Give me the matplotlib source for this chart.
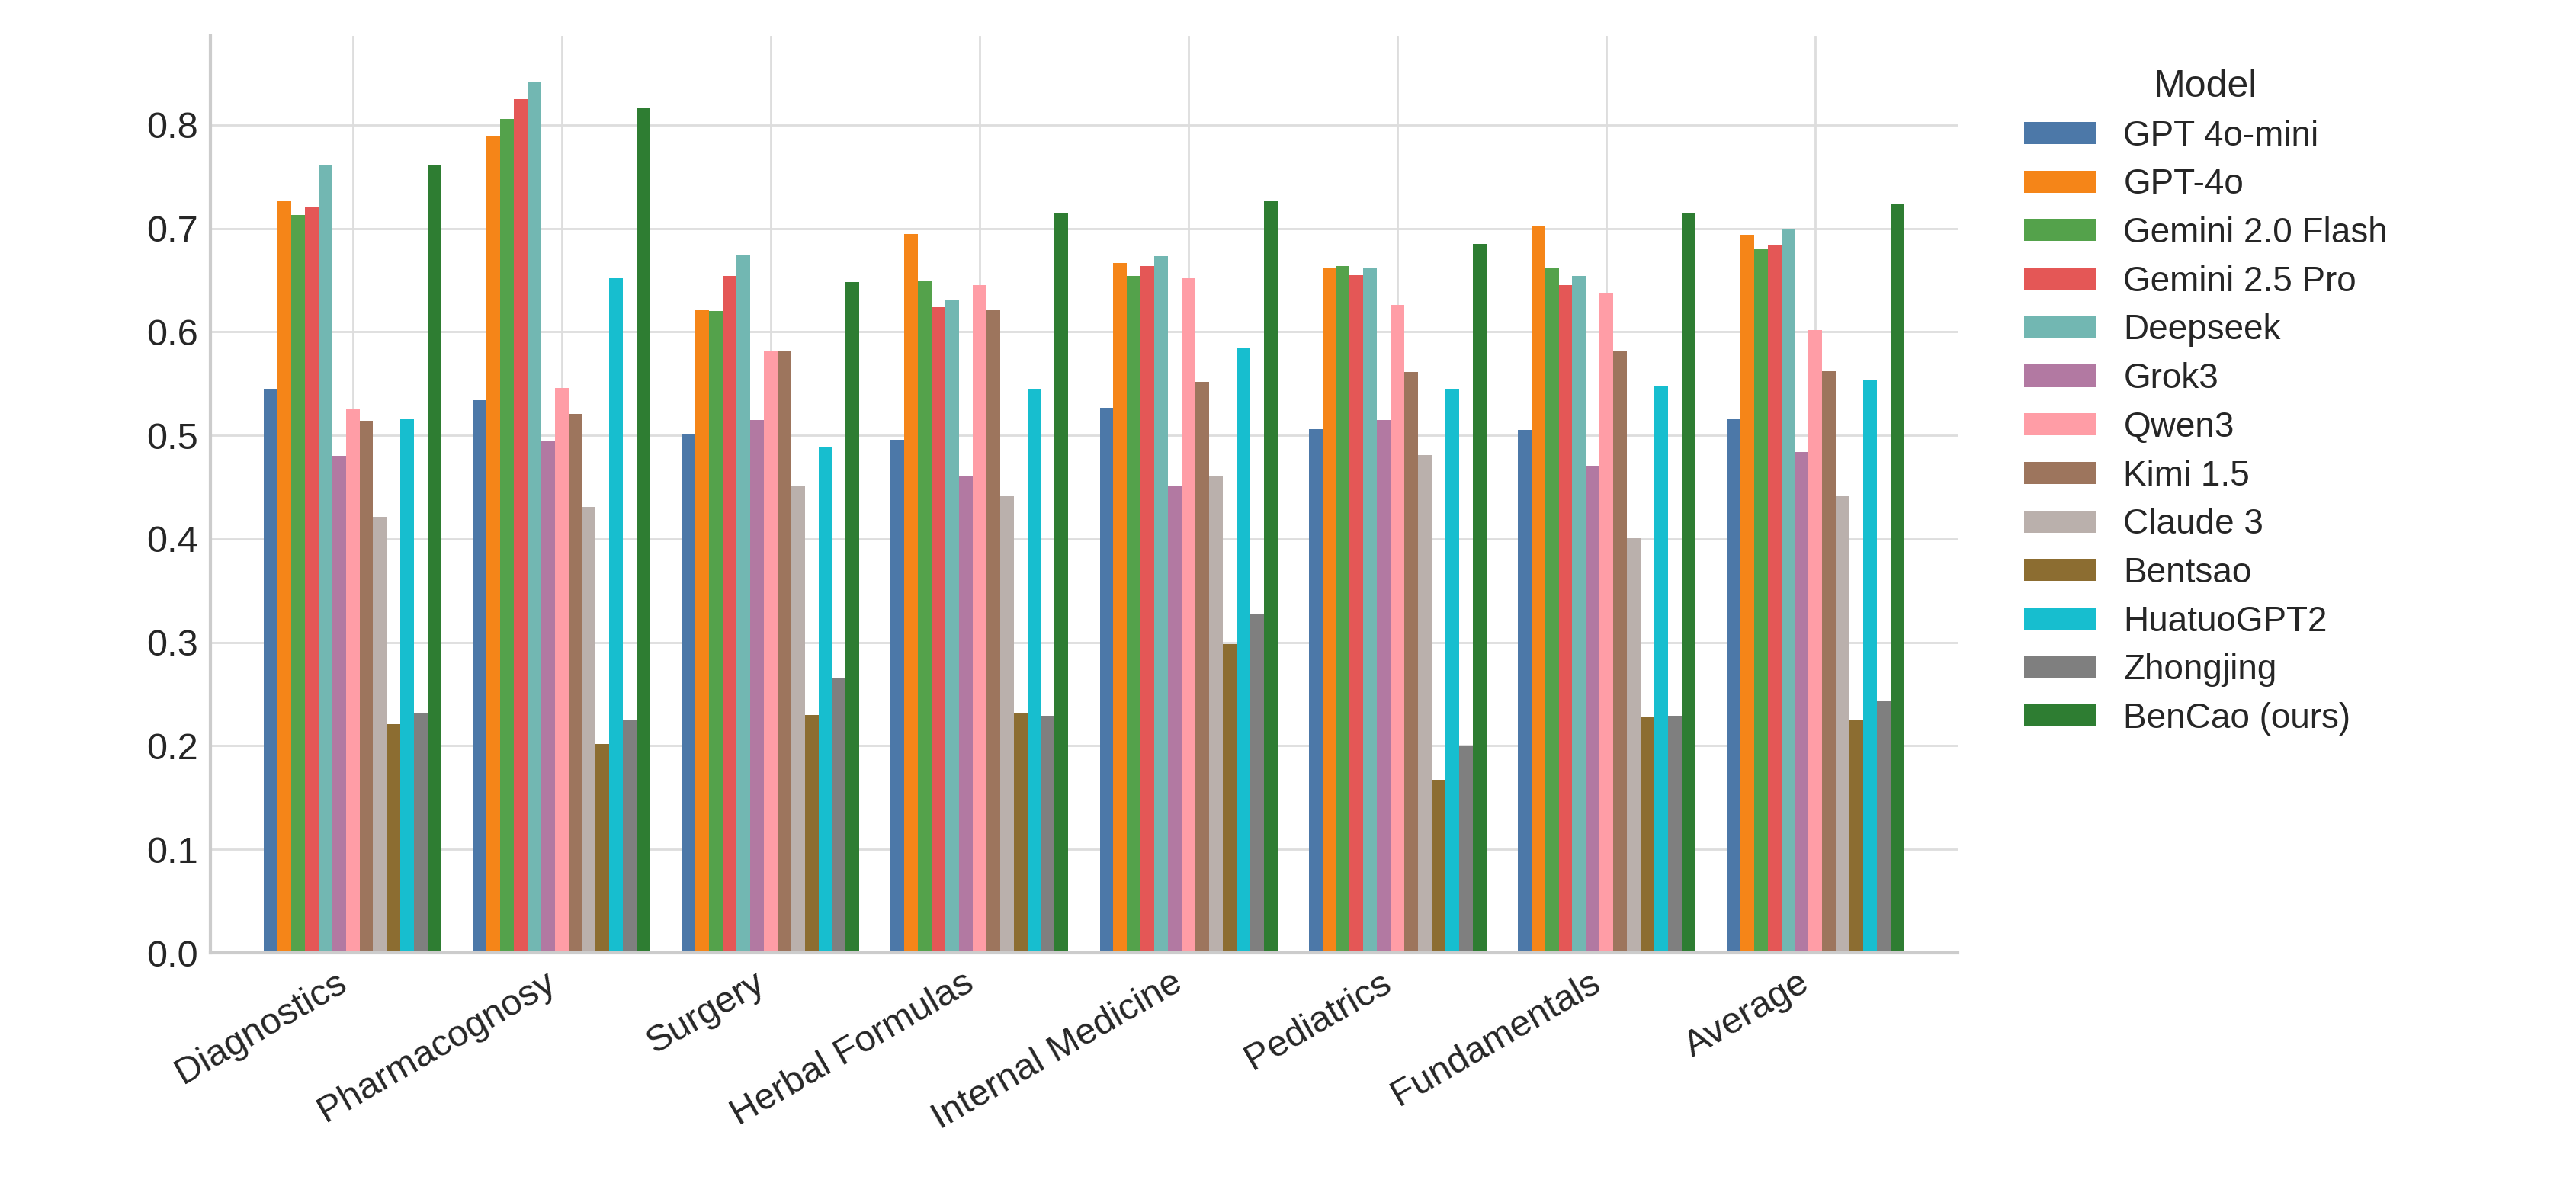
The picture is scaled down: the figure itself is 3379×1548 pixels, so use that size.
import matplotlib
matplotlib.use("Agg")
import matplotlib.pyplot as plt
import numpy as np
import seaborn as sns

categories = ["Diagnostics", "Pharmacognosy", "Surgery", "Herbal Formulas",
              "Internal Medicine", "Pediatrics", "Fundamentals", "Average"]

models = ["GPT 4o-mini", "GPT-4o", "Gemini 2.0 Flash", "Gemini 2.5 Pro", "Deepseek",
          "Grok3", "Qwen3", "Kimi 1.5", "Claude 3", "Bentsao", "HuatuoGPT2",
          "Zhongjing", "BenCao (ours)"]

colors = ["#4c78a8", "#f58518", "#54a24b", "#e45756", "#72b7b2", "#b279a2",
          "#ff9da6", "#9d755d", "#bab0ac", "#8c6d31", "#17becf", "#7f7f7f", "#2e7d32"]

# one list per model, values in category order
gpt4o_mini = [0.545, 0.534, 0.501, 0.496, 0.527, 0.506, 0.505, 0.516]
gpt4o = [0.726, 0.789, 0.621, 0.695, 0.667, 0.662, 0.702, 0.694]
gemini_flash = [0.713, 0.806, 0.620, 0.649, 0.654, 0.664, 0.662, 0.681]
gemini_pro = [0.721, 0.825, 0.654, 0.624, 0.664, 0.655, 0.645, 0.684]
deepseek = [0.762, 0.841, 0.674, 0.631, 0.673, 0.662, 0.654, 0.700]
grok3 = [0.480, 0.494, 0.515, 0.461, 0.451, 0.515, 0.471, 0.484]
qwen3 = [0.526, 0.546, 0.581, 0.645, 0.652, 0.626, 0.638, 0.602]
kimi = [0.514, 0.521, 0.581, 0.621, 0.552, 0.561, 0.582, 0.562]
claude3 = [0.421, 0.431, 0.451, 0.441, 0.461, 0.481, 0.401, 0.441]
bentsao = [0.221, 0.202, 0.230, 0.231, 0.298, 0.167, 0.228, 0.225]
huatuo = [0.516, 0.652, 0.489, 0.545, 0.585, 0.545, 0.547, 0.554]
zhongjing = [0.231, 0.225, 0.265, 0.229, 0.327, 0.200, 0.229, 0.244]
bencao = [0.761, 0.816, 0.648, 0.715, 0.726, 0.685, 0.715, 0.724]

scores = [gpt4o_mini, gpt4o, gemini_flash, gemini_pro, deepseek, grok3, qwen3,
          kimi, claude3, bentsao, huatuo, zhongjing, bencao]

sns.set_style("whitegrid")
plt.rcParams['font.family'] = ['Liberation Sans', 'DejaVu Sans']

fig = plt.figure(figsize=(16.9, 7.74), dpi=200)
ax = fig.add_axes([0.0817, 0.1925, 0.678, 0.777])

x = np.arange(len(categories))
group_w = 0.85
bar_w = group_w / len(models)
for i, (name, vals) in enumerate(zip(models, scores)):
    offset = -group_w / 2 + bar_w * (i + 0.5)
    ax.bar(x + offset, vals, width=bar_w, color=colors[i], label=name,
           linewidth=0, zorder=2)

ax.set_xlim(-0.68, len(categories) - 1 + 0.68)
ax.set_ylim(0, 0.886)
ax.set_yticks(np.arange(0, 0.81, 0.1))
ax.set_yticklabels([f"{v:.1f}" for v in np.arange(0, 0.81, 0.1)], fontsize=17.5)
ax.set_xticks(x)
ax.set_xticklabels(categories, rotation=30, ha="right", fontsize=17.5)
ax.tick_params(axis="y", length=0, pad=6)
ax.tick_params(axis="x", length=0, pad=6)
ax.grid(True, color="#dddddd", linewidth=1.0, zorder=0)
ax.set_axisbelow(True)
for side in ["top", "right"]:
    ax.spines[side].set_visible(False)
for side in ["left", "bottom"]:
    ax.spines[side].set_color("#cccccc")
    ax.spines[side].set_linewidth(1.5)

leg = ax.legend(title="Model", loc="upper left", bbox_to_anchor=(1.02, 0.998),
                frameon=False, fontsize=16.5, title_fontsize=18,
                handlelength=2.05, handleheight=0.6, labelspacing=0.43,
                handletextpad=0.8)

fig.savefig("out.png", dpi=200)
